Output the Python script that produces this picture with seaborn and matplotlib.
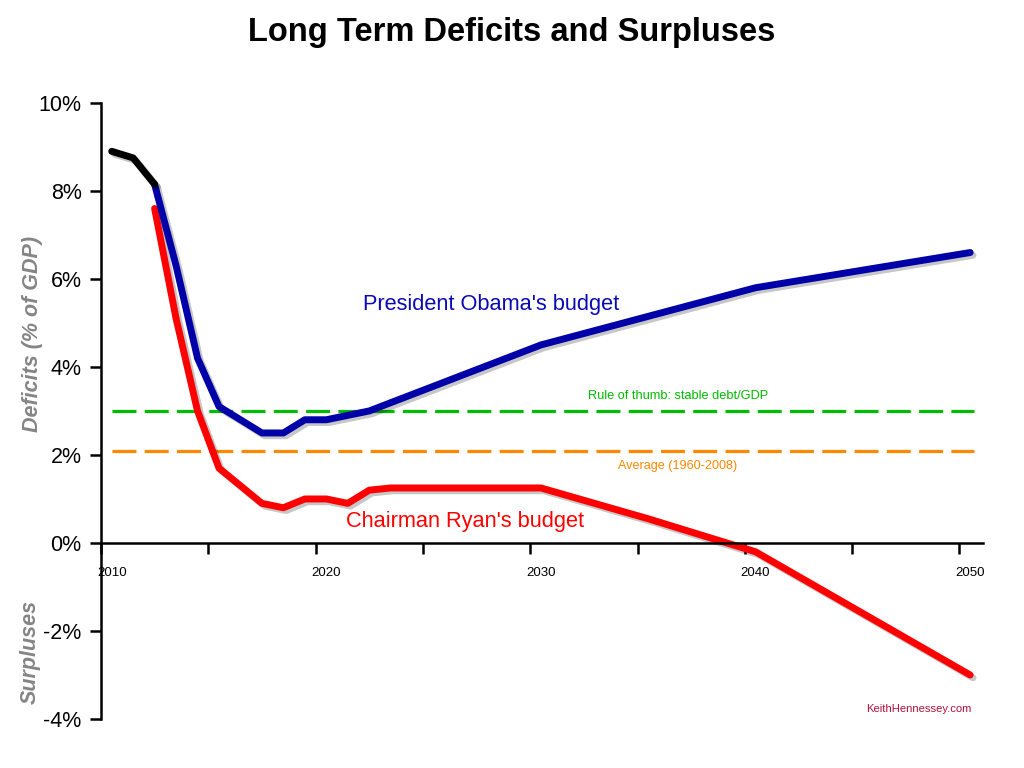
import numpy as np
import pandas as pd
import seaborn as sns
import matplotlib.pyplot as plt
import matplotlib.patheffects as pe

# actual deficits (black), Obama budget (blue), Ryan budget (red), % of GDP
actual_years = [2010, 2011, 2012]
actual_vals = [8.9, 8.75, 8.15]

obama_years = [2012, 2013, 2014, 2015, 2016, 2017, 2018, 2019, 2020, 2021, 2022, 2030, 2040, 2050]
obama_vals = [8.15, 6.3, 4.2, 3.1, 2.8, 2.5, 2.5, 2.8, 2.8, 2.9, 3.0, 4.5, 5.8, 6.6]

ryan_years = [2012, 2013, 2014, 2015, 2016, 2017, 2018, 2019, 2020, 2021, 2022, 2023, 2030, 2035, 2040, 2050]
ryan_vals = [7.6, 5.1, 3.0, 1.7, 1.3, 0.9, 0.8, 1.0, 1.0, 0.9, 1.2, 1.25, 1.25, 0.55, -0.2, -3.0]

rule_of_thumb = 3.0
average_60_08 = 2.1
ref_years = [2010, 2050.2]

ytick_vals = [-4, -2, 0, 2, 4, 6, 8, 10]
xlabel_years = [2010, 2020, 2030, 2040, 2050]
xtick_marks = [2009.5, 2014.5, 2019.5, 2024.5, 2029.5, 2034.5, 2039.5, 2044.5, 2049.5]

sns.set_theme(style="white")
plt.rcParams['font.family'] = ['Liberation Sans', 'DejaVu Sans']
plt.rcParams['text.color'] = 'black'

fig = plt.figure(figsize=(10.24, 7.68), dpi=100)
ax = fig.add_axes([0.0986, 0.0638, 0.8614, 0.8022])

shadow = [pe.SimpleLineShadow(offset=(2, -2), shadow_color='black', alpha=0.22), pe.Normal()]

sns.lineplot(x=ref_years, y=[rule_of_thumb] * 2, ax=ax, color='#00BB00', lw=2.3,
             dashes=False, linestyle=(0, (7.5, 2.6)))
sns.lineplot(x=ref_years, y=[average_60_08] * 2, ax=ax, color='#FF8800', lw=2.3,
             dashes=False, linestyle=(0, (7.5, 2.6)))

for xs, ys, c in [(ryan_years, ryan_vals, '#FF0000'),
                  (obama_years, obama_vals, '#0000A8'),
                  (actual_years, actual_vals, 'black')]:
    sns.lineplot(x=xs, y=ys, ax=ax, color=c, lw=5, solid_capstyle='round',
                 solid_joinstyle='round', path_effects=shadow)

ax.set_xlim(2009.5, 2050.6)
ax.set_ylim(-4, 10)

sns.despine(ax=ax)
ax.spines['bottom'].set_position(('data', 0))
for s in ['left', 'bottom']:
    ax.spines[s].set_color('black')
    ax.spines[s].set_linewidth(1.8)

ax.set_yticks(ytick_vals)
ax.set_yticklabels([f"{v}%" for v in ytick_vals], fontsize=15.5, color='black')
ax.tick_params(axis='y', direction='out', length=8, width=1.8, pad=6, left=True, color='black')

ax.set_xticks(xtick_marks)
ax.set_xticklabels([''] * len(xtick_marks))
ax.set_xticks(xlabel_years, minor=True)
ax.set_xticklabels([str(y) for y in xlabel_years], minor=True, fontsize=9.5, color='black')
ax.tick_params(axis='x', which='major', direction='out', length=8, width=1.8, bottom=True, color='black')
ax.tick_params(axis='x', which='minor', length=0, pad=17, bottom=True)
ax.set_xlabel('')
ax.set_ylabel('')
ax.grid(False)

ax.text(2027.7, 5.41, "President Obama's budget", color='#0A0AB4', fontsize=15.7, ha='center', va='center')
ax.text(2026.45, 0.48, "Chairman Ryan's budget", color='#FF0000', fontsize=15.7, ha='center', va='center')
ax.text(2036.4, 3.34, "Rule of thumb: stable debt/GDP", color='#00BB00', fontsize=9.2, ha='center', va='center')
ax.text(2036.35, 1.75, "Average (1960-2008)", color='#FF8800', fontsize=9.1, ha='center', va='center')
ax.text(2047.6, -3.77, "KeithHennessey.com", color='#B0103A', fontsize=8.1, ha='center', va='center')

fig.text(0.5, 0.958, "Long Term Deficits and Surpluses", fontsize=23.5, fontweight='bold',
         color='black', ha='center', va='center')
fig.text(0.032, 1 - 334 / 768, "Deficits (% of GDP)", color='#858585', fontsize=15.5,
         fontweight='bold', style='italic', rotation=90, ha='center', va='center')
fig.text(0.030, 1 - 652 / 768, "Surpluses", color='#858585', fontsize=15.5,
         fontweight='bold', style='italic', rotation=90, ha='center', va='center')

fig.savefig('out.png', dpi=100)
